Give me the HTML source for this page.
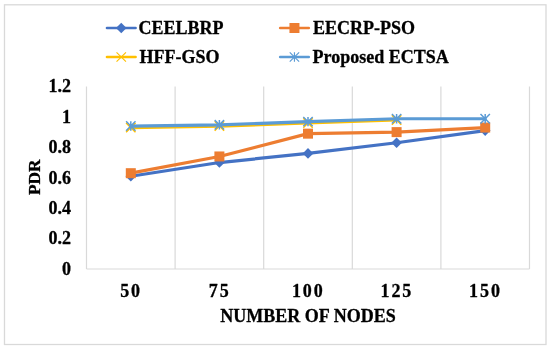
<!DOCTYPE html>
<html lang="en"><head><meta charset="utf-8"><title>PDR vs Number of Nodes</title>
<style>html,body{margin:0;padding:0;background:#fff}svg{display:block}</style></head>
<body>
<svg width="550" height="349" viewBox="0 0 550 349">
<rect width="550" height="349" fill="#fff"/>
<rect x="4.5" y="4.8" width="541.5" height="339.7" fill="none" stroke="#d9d9d9" stroke-width="1.3"/>
<path d="M86.50 86.5V269.0M175.10 86.5V269.0M263.70 86.5V269.0M352.30 86.5V269.0M440.90 86.5V269.0M529.50 86.5V269.0M86.5 269.0H529.5" stroke="#d9d9d9" stroke-width="1.2" fill="none"/>
<polyline points="130.80,176.23 219.40,162.54 308.00,153.42 396.60,142.77 485.20,130.60" fill="none" stroke="#4472C4" stroke-width="3.2" stroke-linecap="round" stroke-linejoin="round"/>
<path d="M125.50 176.23L130.80 170.93L136.10 176.23L130.80 181.53Z" fill="#4472C4"/>
<path d="M214.10 162.54L219.40 157.24L224.70 162.54L219.40 167.84Z" fill="#4472C4"/>
<path d="M302.70 153.42L308.00 148.12L313.30 153.42L308.00 158.72Z" fill="#4472C4"/>
<path d="M391.30 142.77L396.60 137.47L401.90 142.77L396.60 148.07Z" fill="#4472C4"/>
<path d="M479.90 130.60L485.20 125.30L490.50 130.60L485.20 135.90Z" fill="#4472C4"/>
<polyline points="130.80,173.19 219.40,156.46 308.00,133.65 396.60,132.12 485.20,127.56" fill="none" stroke="#ED7D31" stroke-width="3.2" stroke-linecap="round" stroke-linejoin="round"/>
<rect x="125.80" y="168.19" width="10.0" height="10.0" fill="#ED7D31"/>
<rect x="214.40" y="151.46" width="10.0" height="10.0" fill="#ED7D31"/>
<rect x="303.00" y="128.65" width="10.0" height="10.0" fill="#ED7D31"/>
<rect x="391.60" y="127.12" width="10.0" height="10.0" fill="#ED7D31"/>
<rect x="480.20" y="122.56" width="10.0" height="10.0" fill="#ED7D31"/>
<polyline points="130.80,127.56 219.40,126.04 308.00,123.00 396.60,119.96" fill="none" stroke="#FFC000" stroke-width="3.2" stroke-linecap="round" stroke-linejoin="round"/>
<path d="M126.10 122.86L135.50 132.26M126.10 132.26L135.50 122.86" stroke="#FFC000" stroke-width="1.5" fill="none"/>
<path d="M214.70 121.34L224.10 130.74M214.70 130.74L224.10 121.34" stroke="#FFC000" stroke-width="1.5" fill="none"/>
<path d="M303.30 118.30L312.70 127.70M303.30 127.70L312.70 118.30" stroke="#FFC000" stroke-width="1.5" fill="none"/>
<path d="M391.90 115.26L401.30 124.66M391.90 124.66L401.30 115.26" stroke="#FFC000" stroke-width="1.5" fill="none"/>
<polyline points="130.80,126.04 219.40,124.82 308.00,121.63 396.60,118.74 485.20,118.74" fill="none" stroke="#5B9BD5" stroke-width="3.2" stroke-linecap="round" stroke-linejoin="round"/>
<path d="M126.10 121.34L135.50 130.74M126.10 130.74L135.50 121.34M130.80 121.34L130.80 130.74" stroke="#5B9BD5" stroke-width="1.5" fill="none"/>
<path d="M214.70 120.12L224.10 129.52M214.70 129.52L224.10 120.12M219.40 120.12L219.40 129.52" stroke="#5B9BD5" stroke-width="1.5" fill="none"/>
<path d="M303.30 116.93L312.70 126.33M303.30 126.33L312.70 116.93M308.00 116.93L308.00 126.33" stroke="#5B9BD5" stroke-width="1.5" fill="none"/>
<path d="M391.90 114.04L401.30 123.44M391.90 123.44L401.30 114.04M396.60 114.04L396.60 123.44" stroke="#5B9BD5" stroke-width="1.5" fill="none"/>
<path d="M480.50 114.04L489.90 123.44M480.50 123.44L489.90 114.04M485.20 114.04L485.20 123.44" stroke="#5B9BD5" stroke-width="1.5" fill="none"/>
<g font-family="'Liberation Serif', 'Times New Roman', serif" font-weight="bold" font-size="18" fill="#000" stroke="#000" stroke-width="0.3" stroke-linejoin="round">
<text x="71.1" y="274.90" text-anchor="end">0</text>
<text x="71.1" y="244.48" text-anchor="end">0.2</text>
<text x="71.1" y="214.07" text-anchor="end">0.4</text>
<text x="71.1" y="183.65" text-anchor="end">0.6</text>
<text x="71.1" y="153.23" text-anchor="end">0.8</text>
<text x="71.1" y="122.82" text-anchor="end">1</text>
<text x="71.1" y="92.40" text-anchor="end">1.2</text>
<text x="131.05" y="296.6" text-anchor="middle" letter-spacing="1.9">50</text>
<text x="219.65" y="296.6" text-anchor="middle" letter-spacing="1.9">75</text>
<text x="308.25" y="296.6" text-anchor="middle" letter-spacing="1.9">100</text>
<text x="396.85" y="296.6" text-anchor="middle" letter-spacing="1.9">125</text>
<text x="485.45" y="296.6" text-anchor="middle" letter-spacing="1.9">150</text>
<text x="308.0" y="321.8" text-anchor="middle">NUMBER OF NODES</text>
<text transform="translate(39.7 177.2) rotate(-90)" text-anchor="middle" font-size="17.3">PDR</text>
<text x="138.6" y="33.8">CEELBRP</text>
<text x="312.9" y="33.8">EECRP-PSO</text>
<text x="139.6" y="62.6">HFF-GSO</text>
<text x="312.6" y="62.6">Proposed ECTSA</text>
</g>
<path d="M107.00 28.0H135.60" stroke="#4472C4" stroke-width="2.6" stroke-linecap="round" fill="none"/>
<path d="M115.95 28.00L121.25 22.70L126.55 28.00L121.25 33.30Z" fill="#4472C4"/>
<path d="M280.20 28.0H308.80" stroke="#ED7D31" stroke-width="2.6" stroke-linecap="round" fill="none"/>
<rect x="289.45" y="23.00" width="10.0" height="10.0" fill="#ED7D31"/>
<path d="M107.00 57.0H135.60" stroke="#FFC000" stroke-width="2.6" stroke-linecap="round" fill="none"/>
<path d="M116.55 52.30L125.95 61.70M116.55 61.70L125.95 52.30" stroke="#FFC000" stroke-width="1.15" fill="none"/>
<path d="M280.20 57.0H308.80" stroke="#5B9BD5" stroke-width="2.6" stroke-linecap="round" fill="none"/>
<path d="M289.75 52.30L299.15 61.70M289.75 61.70L299.15 52.30M294.45 52.30L294.45 61.70" stroke="#5B9BD5" stroke-width="1.15" fill="none"/>
</svg>
</body></html>
